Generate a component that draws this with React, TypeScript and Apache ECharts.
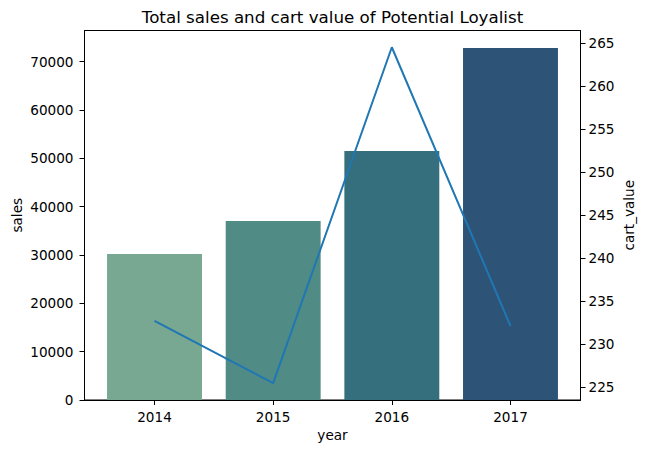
import React, { useEffect, useRef } from "react";
import * as echarts from "echarts";

const years = ["2014", "2015", "2016", "2017"];
const sales = [30210, 37040, 51520, 72830];
const cartValue = [232.7, 225.45, 264.54, 232.1];
const barColors = ["#78a891", "#518b85", "#356e7d", "#2d5376"];
const salesTicks = [0, 10000, 20000, 30000, 40000, 50000, 60000, 70000];
const cartTicks = [225, 230, 235, 240, 245, 250, 255, 260, 265];
const xTicks = [0, 1, 2, 3];

const FONT = "DejaVu Sans";

export default function App() {
  const ref = useRef<HTMLDivElement>(null);
  useEffect(() => {
    document.body.style.margin = "0";
    if (!ref.current) return;
    const chart = echarts.init(ref.current, undefined, { renderer: "svg" });
    const tickStyle = { show: true, length: 5, inside: false, lineStyle: { color: "#000", width: 1 } };
    const lineStyle = { show: true, onZero: false, lineStyle: { color: "#000", width: 1 } };
    chart.setOption({
      animation: false,
      backgroundColor: "#fff",
      textStyle: { fontFamily: FONT },
      title: {
        text: "Total sales and cart value of Potential Loyalist",
        left: 332.5,
        top: 8,
        padding: 0,
        textAlign: "center",
        textStyle: { fontFamily: FONT, fontSize: 16.7, fontWeight: "normal", color: "#000" },
      },
      grid: {
        left: 84.5,
        right: 64.5,
        top: 30.5,
        bottom: 53,
        containLabel: false,
        outerBoundsMode: "none",
        show: true,
        borderColor: "#000",
        borderWidth: 1,
        backgroundColor: "transparent",
      },
      xAxis: {
        type: "value",
        min: -0.59,
        max: 3.59,
        name: "year",
        nameLocation: "middle",
        nameGap: 28,
        nameMoveOverlap: false,
        nameTextStyle: { fontFamily: FONT, fontSize: 13.6, color: "#000" },
        axisLine: lineStyle,
        axisTick: { ...tickStyle, customValues: xTicks },
        axisLabel: {
          customValues: xTicks,
          margin: 9.5,
          fontFamily: FONT,
          fontSize: 13.6,
          color: "#000",
          formatter: (v: number) => years[Math.round(v)] ?? "",
        },
        splitLine: { show: false },
      },
      yAxis: [
        {
          type: "value",
          position: "left",
          min: 0,
          max: 76450,
          name: "sales",
          nameLocation: "middle",
          nameGap: 61,
          nameMoveOverlap: false,
          nameTextStyle: { fontFamily: FONT, fontSize: 13.6, color: "#000" },
          axisLine: lineStyle,
          axisTick: { ...tickStyle, customValues: salesTicks },
          axisLabel: {
            customValues: salesTicks,
            margin: 11,
            fontFamily: FONT,
            fontSize: 13.6,
            color: "#000",
            formatter: (v: number) => String(v),
          },
          splitLine: { show: false },
        },
        {
          type: "value",
          position: "right",
          min: 223.49,
          max: 266.49,
          name: "cart_value",
          nameLocation: "middle",
          nameGap: 41,
          nameMoveOverlap: false,
          nameTextStyle: { fontFamily: FONT, fontSize: 13.6, color: "#000" },
          axisLine: lineStyle,
          axisTick: { ...tickStyle, customValues: cartTicks },
          axisLabel: {
            customValues: cartTicks,
            margin: 8,
            fontFamily: FONT,
            fontSize: 13.6,
            color: "#000",
            formatter: (v: number) => String(v),
          },
          splitLine: { show: false },
        },
      ],
      series: [
        {
          type: "bar",
          xAxisIndex: 0,
          yAxisIndex: 0,
          barWidth: "80%",
          data: sales.map((v, i) => ({ value: [i, v], itemStyle: { color: barColors[i] } })),
          z: 2,
        },
        {
          type: "line",
          xAxisIndex: 0,
          yAxisIndex: 1,
          symbol: "none",
          showSymbol: false,
          lineStyle: { color: "#1f77b4", width: 2 },
          itemStyle: { color: "#1f77b4" },
          data: cartValue.map((v, i) => [i, v]),
          z: 3,
        },
      ],
    });
    return () => chart.dispose();
  }, []);
  return <div ref={ref} style={{ width: 645, height: 453 }} />;
}
